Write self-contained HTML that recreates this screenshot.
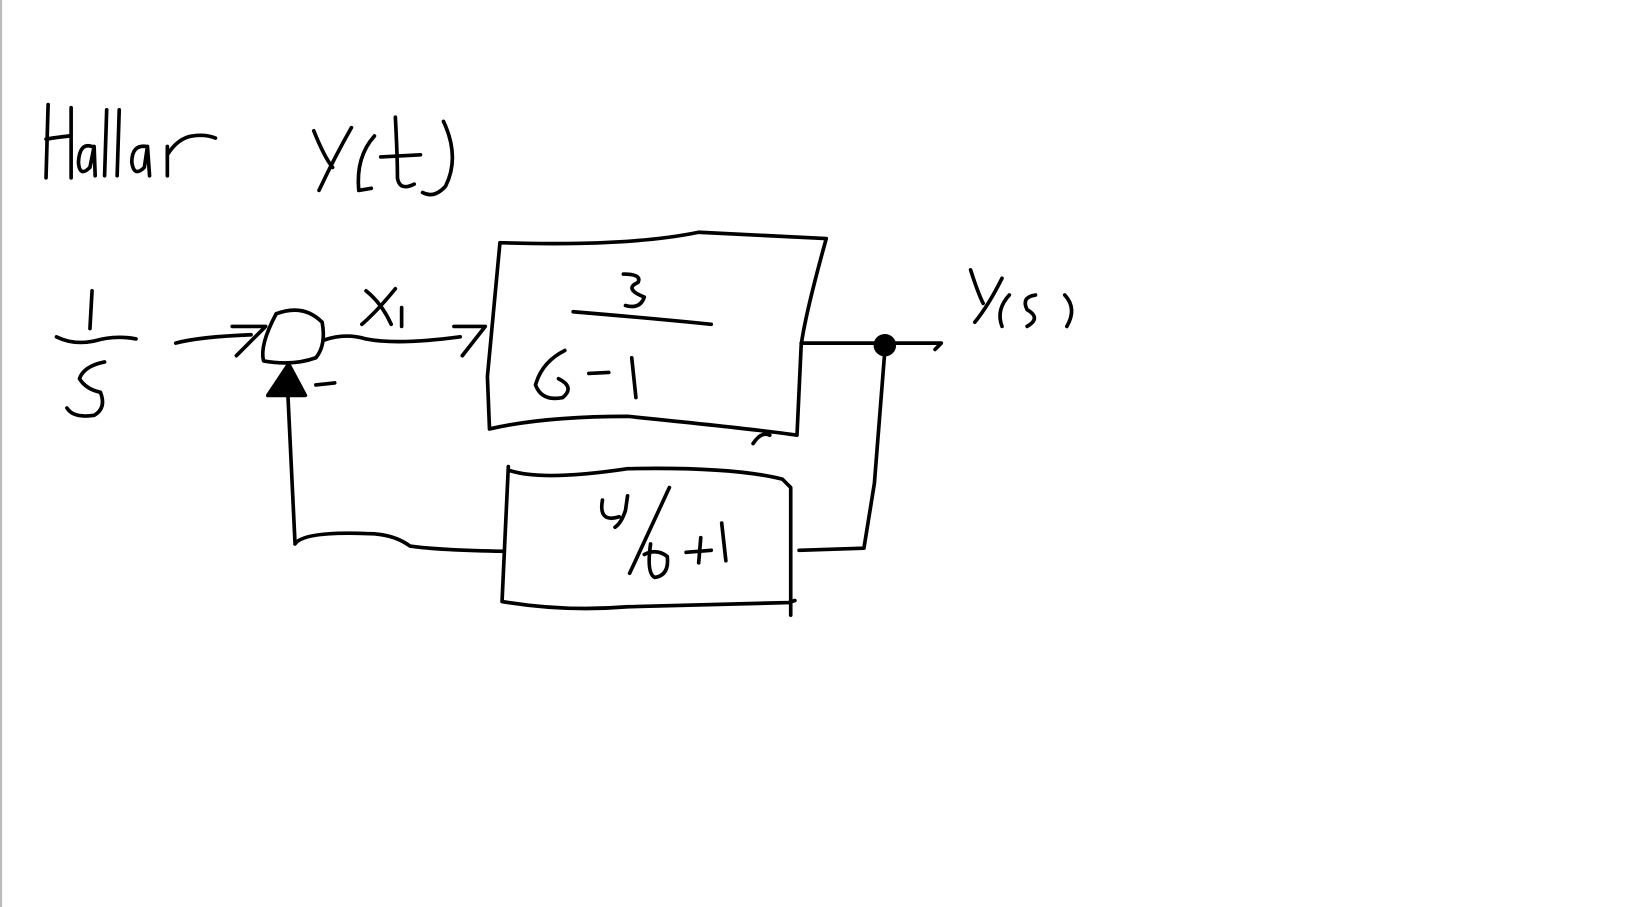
<!DOCTYPE html>
<html><head><meta charset="utf-8"><style>
html,body{margin:0;padding:0;background:#fff;}
svg{display:block;}
text{font-family:"Liberation Sans",sans-serif;fill:#fff;fill-opacity:0;}
</style></head><body>
<svg width="1640" height="907" viewBox="0 0 1568 867" preserveAspectRatio="none" xmlns="http://www.w3.org/2000/svg">
<rect x="0" y="0" width="1568" height="867" fill="#fff"/>
<line x1="1" y1="0" x2="1" y2="867" stroke="#bbb" stroke-width="2"/>
<text x="44" y="168" font-size="60">Hallar</text>
<text x="300" y="180" font-size="60">y(t)</text>
<text x="930" y="310" font-size="40">Y(s)</text>
<text x="350" y="310" font-size="30">X1</text>
<g fill="none" stroke="#000" stroke-width="3.5" stroke-linecap="round" stroke-linejoin="round">
<!-- Hallar -->
<path d="M46 100 L44 170 M44 133 Q56 131 66 130 M68 103 L68 170"/>
<path d="M88 140 Q76 136 75 155 Q76 170 86 160 L90 140 L91 168"/>
<path d="M102 105 L100 168 M114 105 L112 168"/>
<path d="M140 140 Q126 138 126 155 Q128 170 138 160 L141 140 L143 168"/>
<path d="M160 140 L160 168 M160 148 Q170 132 184 130 Q196 128 206 132"/>
<!-- y(t) -->
<path d="M300 125 Q310 150 318 160 M336 122 Q320 150 305 182"/>
<path d="M358 130 Q340 150 343 182 L355 180"/>
<path d="M378 112 Q380 150 380 170 Q382 183 396 176 M364 150 L402 148"/>
<path d="M424 116 Q440 150 426 178 Q415 190 404 184"/>
<!-- 1/s -->
<path d="M88 278 L86 314 M54 322 Q70 330 90 326 Q110 320 130 324"/>
<path d="M100 346 Q80 350 76 362 Q82 372 96 375 Q102 390 90 397 Q70 400 64 390"/>
<!-- arrow input -->
<path d="M168 328 Q190 322 240 320 M222 312 L254 312 L226 340"/>
<!-- summer -->
<path d="M264 300 Q290 290 308 308 Q312 330 302 342 Q280 350 252 345 Q248 330 264 300"/>
<path d="M310 325 Q330 318 350 324 Q380 330 440 322 M434 312 L464 312 L442 340"/>
<!-- x1 -->
<path d="M350 278 Q365 290 374 310 M378 276 Q360 298 346 310 M384 294 L384 312"/>
<!-- minus -->
<path d="M302 368 L320 366"/>
<!-- feedback arrow -->
<path d="M282 518 L275 372"/>
<polygon points="256,378 276,348 292,378" fill="#000"/>
<path d="M282 520 Q290 508 350 510 Q376 510 392 522 Q420 526 482 527"/>
<!-- top box -->
<path d="M478 232 Q600 236 668 222 L790 228 Q770 300 766 330 L762 416 Q720 410 600 398 Q520 398 468 410 L466 360 L478 232"/>
<path d="M548 298 Q620 304 680 310"/>
<path d="M596 262 Q614 262 610 270 Q596 276 616 284 Q612 296 598 292"/>
<path d="M540 335 Q518 346 512 368 Q518 384 538 380 Q550 370 534 362"/>
<path d="M563 357 L582 356 M604 342 L608 380"/>
<path d="M720 424 Q728 412 736 416"/>
<!-- output -->
<path d="M766 328 L900 328 L894 334"/>
<circle cx="846" cy="330" r="9" fill="#000"/>
<path d="M846 335 L836 462 L826 524 L764 526"/>
<!-- Y(s) -->
<path d="M928 258 Q935 280 940 290 M958 266 Q945 292 932 308"/>
<path d="M965 282 Q952 296 958 312"/>
<path d="M990 282 Q976 284 982 296 Q996 304 982 312"/>
<path d="M1018 282 Q1030 295 1020 312"/>
<!-- bottom box -->
<path d="M488 450 Q520 460 600 448 Q700 446 748 458 L756 466 L756 588 M486 446 L480 575 Q540 585 600 580 L754 576 L760 574"/>
<!-- s/(s+1) -->
<path d="M576 478 Q572 500 592 494 M600 474 L598 488 Q594 500 588 504"/>
<path d="M640 466 L602 548"/>
<path d="M622 520 Q618 548 626 552 Q640 550 638 532 Q628 524 616 530"/>
<path d="M656 528 L680 526 M670 514 L668 538 M690 500 L694 536"/>
</g>
</svg>
</body></html>
